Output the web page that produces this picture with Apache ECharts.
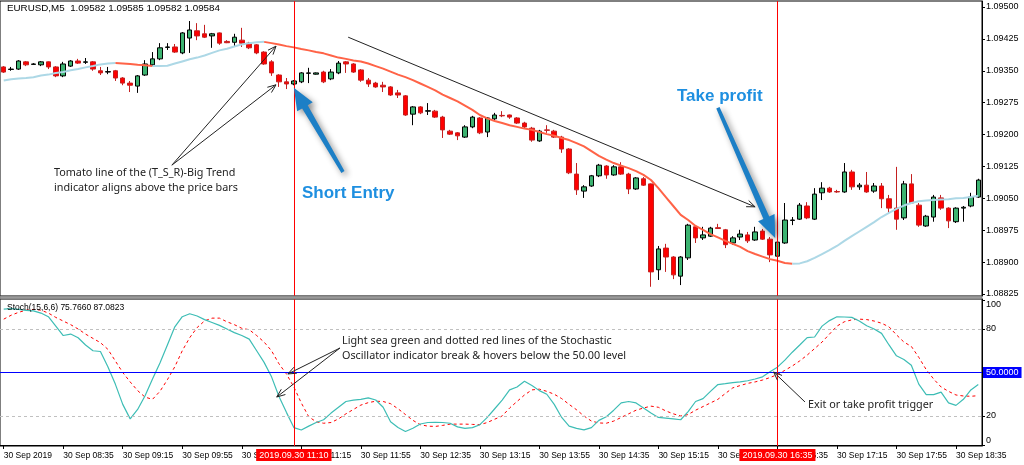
<!DOCTYPE html>
<html>
<head>
<meta charset="utf-8">
<script src="https://cdn.jsdelivr.net/npm/echarts@6.0.0/dist/echarts.min.js"></script>
<style>
  html, body { margin: 0; padding: 0; background: #fff; }
  #main { width: 1024px; height: 465px; }
</style>
</head>
<body>
<div id="main"></div>
<script>
// EURUSD M5, 30 Sep 2019, one bar every 5 minutes from 07:55
const startMinute = 7 * 60 + 55;
const barCount = 132;
const categories = Array.from({length: barCount}, (_, i) => {
  const m = startMinute + i * 5;
  return String(Math.floor(m / 60)).padStart(2, '0') + ':' + String(m % 60).padStart(2, '0');
});

// [open, close, low, high]
const candles = [
  [1.09359,1.09347,1.09345,1.09361],[1.09353,1.09354,1.09350,1.09359],[1.09354,1.09373,1.09352,1.09375],[1.09371,1.09364,1.09361,1.09373],
  [1.09365,1.09366,1.09364,1.09368],[1.09364,1.09371,1.09361,1.09373],[1.09371,1.09359,1.09354,1.09372],[1.09359,1.09338,1.09335,1.09361],
  [1.09338,1.09366,1.09335,1.09371],[1.09361,1.09373,1.09359,1.09375],[1.09373,1.09368,1.09366,1.09378],[1.09370,1.09371,1.09366,1.09380],
  [1.09371,1.09354,1.09350,1.09373],[1.09350,1.09345,1.09340,1.09359],[1.09347,1.09348,1.09342,1.09359],[1.09350,1.09333,1.09326,1.09352],
  [1.09333,1.09321,1.09316,1.09335],[1.09321,1.09316,1.09300,1.09326],[1.09314,1.09338,1.09298,1.09340],[1.09340,1.09366,1.09338,1.09375],
  [1.09364,1.09378,1.09361,1.09394],[1.09378,1.09404,1.09375,1.09415],[1.09405,1.09406,1.09399,1.09415],[1.09406,1.09394,1.09392,1.09413],
  [1.09392,1.09439,1.09389,1.09441],[1.09427,1.09446,1.09392,1.09467],[1.09444,1.09432,1.09422,1.09462],[1.09437,1.09429,1.09427,1.09458],
  [1.09432,1.09437,1.09404,1.09439],[1.09439,1.09415,1.09411,1.09440],[1.09419,1.09416,1.09415,1.09422],[1.09417,1.09429,1.09406,1.09437],
  [1.09422,1.09415,1.09406,1.09451],[1.09415,1.09404,1.09401,1.09418],[1.09411,1.09392,1.09389,1.09413],[1.09394,1.09366,1.09364,1.09396],
  [1.09371,1.09345,1.09338,1.09375],[1.09340,1.09324,1.09312,1.09342],[1.09324,1.09319,1.09307,1.09333],[1.09319,1.09326,1.09316,1.09328],
  [1.09324,1.09345,1.09321,1.09347],[1.09344,1.09345,1.09321,1.09357],[1.09342,1.09345,1.09341,1.09346],[1.09347,1.09324,1.09321,1.09350],
  [1.09331,1.09347,1.09328,1.09354],[1.09345,1.09368,1.09342,1.09373],[1.09371,1.09366,1.09345,1.09373],[1.09366,1.09347,1.09345,1.09368],
  [1.09352,1.09328,1.09324,1.09354],[1.09328,1.09319,1.09312,1.09333],[1.09321,1.09312,1.09310,1.09324],[1.09316,1.09312,1.09300,1.09324],
  [1.09312,1.09293,1.09291,1.09314],[1.09298,1.09293,1.09286,1.09305],[1.09291,1.09246,1.09244,1.09293],[1.09248,1.09265,1.09222,1.09267],
  [1.09265,1.09251,1.09248,1.09267],[1.09255,1.09256,1.09246,1.09274],[1.09255,1.09241,1.09239,1.09258],[1.09241,1.09211,1.09192,1.09244],
  [1.09208,1.09201,1.09199,1.09211],[1.09204,1.09197,1.09187,1.09206],[1.09194,1.09218,1.09192,1.09222],[1.09218,1.09241,1.09215,1.09244],
  [1.09239,1.09204,1.09201,1.09241],[1.09206,1.09239,1.09194,1.09241],[1.09237,1.09246,1.09234,1.09251],[1.09245,1.09244,1.09241,1.09255],
  [1.09246,1.09241,1.09237,1.09247],[1.09239,1.09227,1.09225,1.09241],[1.09227,1.09218,1.09215,1.09230],[1.09215,1.09187,1.09183,1.09218],
  [1.09185,1.09208,1.09183,1.09211],[1.09211,1.09210,1.09204,1.09222],[1.09208,1.09194,1.09192,1.09211],[1.09194,1.09166,1.09157,1.09197],
  [1.09166,1.09110,1.09107,1.09168],[1.09107,1.09070,1.09058,1.09133],[1.09067,1.09077,1.09051,1.09081],[1.09079,1.09103,1.09077,1.09105],
  [1.09103,1.09128,1.09100,1.09131],[1.09126,1.09105,1.09096,1.09128],[1.09105,1.09124,1.09103,1.09128],[1.09124,1.09107,1.09105,1.09135],
  [1.09107,1.09072,1.09060,1.09110],[1.09072,1.09098,1.09070,1.09100],[1.09096,1.09081,1.09079,1.09100],[1.09084,1.08877,1.08842,1.09085],
  [1.08882,1.08931,1.08858,1.08938],[1.08933,1.08912,1.08877,1.08943],[1.08912,1.08870,1.08860,1.08914],[1.08867,1.08912,1.08846,1.08914],
  [1.08910,1.08987,1.08905,1.08990],[1.08983,1.08957,1.08945,1.08987],[1.08957,1.08964,1.08952,1.08983],[1.08961,1.08980,1.08959,1.08983],
  [1.08981,1.08979,1.08978,1.08990],[1.08976,1.08941,1.08933,1.08978],[1.08945,1.08957,1.08941,1.08961],[1.08959,1.08966,1.08952,1.08976],
  [1.08964,1.08950,1.08945,1.08971],[1.08952,1.08971,1.08950,1.08983],[1.08973,1.08954,1.08952,1.08978],[1.08954,1.08917,1.08900,1.08959],
  [1.08914,1.08947,1.08912,1.08952],[1.08945,1.08999,1.08943,1.09039],[1.08998,1.08999,1.08987,1.09006],[1.09001,1.09034,1.08999,1.09039],
  [1.09032,1.09004,1.09001,1.09041],[1.09001,1.09060,1.08999,1.09074],[1.09063,1.09074,1.09046,1.09088],[1.09074,1.09065,1.09063,1.09077],
  [1.09066,1.09065,1.09063,1.09070],[1.09065,1.09112,1.09063,1.09133],[1.09112,1.09077,1.09070,1.09117],[1.09077,1.09081,1.09070,1.09086],
  [1.09081,1.09065,1.09063,1.09112],[1.09067,1.09079,1.09063,1.09086],[1.09079,1.09049,1.09027,1.09086],[1.09049,1.09027,1.09015,1.09058],
  [1.09027,1.09001,1.08976,1.09124],[1.09004,1.09084,1.08999,1.09091],[1.09084,1.09039,1.09037,1.09107],[1.09034,1.08987,1.08983,1.09039],
  [1.08985,1.09008,1.08983,1.09011],[1.09006,1.09053,1.08995,1.09058],[1.09051,1.09027,1.09023,1.09058],[1.09027,1.08997,1.08980,1.09029],
  [1.08995,1.09027,1.08992,1.09029],[1.09027,1.09029,1.08995,1.09032],[1.09032,1.09053,1.09029,1.09063],[1.09053,1.09093,1.09051,1.09096]
];

// (T_S_R)-Big Trend line
const trendLine = [
  1.09327,1.09330,1.09332,1.09333,1.09335,1.09339,1.09341,1.09345,1.09347,1.09351,
  1.09354,1.09358,1.09361,1.09365,1.09367,1.09368,1.09367,1.09366,1.09364,1.09363,
  1.09361,1.09361,1.09362,1.09367,1.09372,1.09377,1.09381,1.09386,1.09392,1.09398,
  1.09402,1.09407,1.09412,1.09415,1.09417,1.09418,1.09415,1.09412,1.09408,1.09405,
  1.09401,1.09398,1.09394,1.09391,1.09386,1.09381,1.09378,1.09374,1.09372,1.09367,
  1.09361,1.09355,1.09348,1.09341,1.09335,1.09328,1.09320,1.09312,1.09304,1.09294,
  1.09286,1.09278,1.09268,1.09258,1.09246,1.09238,1.09232,1.09227,1.09222,1.09218,
  1.09214,1.09211,1.09206,1.09201,1.09197,1.09192,1.09187,1.09180,1.09172,1.09161,
  1.09150,1.09141,1.09133,1.09127,1.09121,1.09114,1.09105,1.09093,1.09074,1.09053,
  1.09032,1.09011,1.08999,1.08985,1.08976,1.08966,1.08958,1.08950,1.08943,1.08936,
  1.08926,1.08919,1.08913,1.08907,1.08903,1.08898,1.08896,1.08897,1.08902,1.08910,
  1.08919,1.08928,1.08938,1.08950,1.08961,1.08972,1.08983,1.08994,1.09006,1.09016,
  1.09025,1.09033,1.09039,1.09043,1.09045,1.09046,1.09047,1.09048,1.09050,1.09051,1.09053,1.09056
];

// Stoch(15,6,6)
const stochMain = [
  93.7,94,93.5,92.8,92.5,91,88.5,82,75.5,76.5,
  74,69,65,64.5,54,42,28,18,24.5,34,
  45.5,56.5,69,81.5,88.5,90.5,89,86.5,84.5,82.5,
  80,77.5,75.5,73,65,57,47,33.5,22.5,12,
  10.3,13,15.5,17.4,22,26,30,31,31.5,32.5,
  31,26,16,12,9.3,11.5,14.5,15.5,15.7,15.5,
  15,12.5,11.5,12,14,19,25,31,38,40,
  44,41,37.5,35,28,19,13,11.5,10.4,12,
  17,19.5,24,29,30,29,25.5,22,19,18.5,
  18,17.4,23,30,32,37,41.7,42.3,43,43.5,
  44.3,45.5,47,50.5,53.7,58.5,64,69,74.1,74.5,
  82,85.8,88.4,88.3,88,85.5,82.2,80,77,69,
  61.5,59,55,42,34.7,34.7,36.5,29,27.3,31.5,38,41.7
];
const stochSignal = [
  86.8,89.5,91.5,93,93.5,93,91,88,85.5,83,
  80,76.5,73.5,70.6,66,58,50,43.5,37.5,33,
  31.5,37,45,54,65,74,81,85.6,87.5,87.5,
  85,83,80.5,79.5,75.5,71,65,56,49,40,
  29,19.5,16,15,15.5,18,21.5,24.5,27.5,29.2,
  30.2,30,28.5,25,21,17,14,13,12.8,13.5,
  14.4,14.4,14.4,14.2,14,15.5,17.8,20,25.5,30,
  34.5,38,38.5,37,35,32,28,24.3,20,16.5,
  15.2,15,16.5,19,21.5,24,25.5,26.8,26,23.5,
  21.5,20,21,24,26.5,29,31.5,35.5,39.4,41,
  42.5,43.5,44.8,46.5,48.6,51.5,54.5,58,62,66.5,
  71,76.5,82,85,86.3,86.8,86.5,85.5,84,81.5,
  76,71,68,60.5,52,45.5,40,37,34.5,33.8,33.6,34
];

const priceTicks = [1.08825,1.08900,1.08975,1.09050,1.09125,1.09200,1.09275,1.09350,1.09425,1.09500];
const stochLabels = [0, 20, 80, 100];
const stochTicks = [0, 20, 50, 80, 100];
const dashedLevels = [20, 80];
const midLevel = 50;
const signalTimes = ['11:10', '16:35'];

const FONT = 'Liberation Sans';
const NOTE_FONT = 'Noto Sans';
const SIGNAL_RED = '#ff0000';

// split the trend line into falling (tomato) and rising (light blue) pieces
const falling = i => i > 0 && trendLine[i] < trendLine[i - 1];
const tomatoPart = trendLine.map((v, i) => (falling(i) || (i + 1 < barCount && falling(i + 1))) ? v : null);
const bluePart = trendLine.map((v, i) => (i === 0 || !falling(i) || (i + 1 < barCount && !falling(i + 1))) ? v : null);

const chart = echarts.init(document.getElementById('main'), null, {renderer: 'canvas'});

const redLabel = t => ({
  show: true, position: 'start', distance: 3,
  formatter: '2019.09.30 ' + t,
  backgroundColor: SIGNAL_RED, color: '#fff', padding: [2, 3, 1, 3],
  fontSize: 9, fontFamily: FONT
});
const redLine = {color: SIGNAL_RED, width: 1, type: 'solid', opacity: 1};

chart.setOption({
  animation: false,
  backgroundColor: '#ffffff',
  grid: [
    {left: 0, right: 42, top: 1, height: 295, show: true, borderColor: '#000', borderWidth: 1, outerBoundsMode: 'none'},
    {left: 0, right: 42, top: 299, height: 147, show: true, borderColor: '#000', borderWidth: 1, outerBoundsMode: 'none'}
  ],
  xAxis: [
    {type: 'category', gridIndex: 0, data: categories, boundaryGap: true,
      axisLine: {show: false}, axisTick: {show: false}, axisLabel: {show: false}, splitLine: {show: false}},
    {type: 'category', gridIndex: 1, data: categories, boundaryGap: true,
      axisLine: {show: true, lineStyle: {color: '#000'}},
      axisTick: {show: true, interval: 7, alignWithLabel: true, length: 4, lineStyle: {color: '#000'}},
      axisLabel: {interval: 7, align: 'left', margin: 5, fontSize: 8.5, fontFamily: FONT, color: '#000',
        formatter: (v, i) => i === 0 ? '30 Sep 2019' : '30 Sep ' + v},
      splitLine: {show: false}}
  ],
  yAxis: [
    {type: 'value', gridIndex: 0, position: 'right', min: 1.088203, max: 1.095141,
      splitLine: {show: false},
      axisLine: {show: true, lineStyle: {color: '#000'}},
      axisTick: {show: true, customValues: priceTicks, length: 3, lineStyle: {color: '#000'}},
      axisLabel: {customValues: priceTicks, formatter: v => v.toFixed(5), fontSize: 9, fontFamily: FONT, color: '#000', margin: 4}},
    {type: 'value', gridIndex: 1, position: 'right', min: -0.7, max: 100.7,
      splitLine: {show: false},
      axisLine: {show: true, lineStyle: {color: '#000'}},
      axisTick: {show: true, customValues: stochTicks, length: 3, lineStyle: {color: '#000'}},
      axisLabel: {customValues: stochLabels, formatter: v => String(v), fontSize: 9, fontFamily: FONT, color: '#000', margin: 4,
        verticalAlignMinLabel: 'bottom', verticalAlignMaxLabel: 'top'}}
  ],
  series: [
    {
      type: 'candlestick', xAxisIndex: 0, yAxisIndex: 0, data: candles, barWidth: 5,
      itemStyle: {color: '#3cb371', color0: '#ff0000', borderColor: '#000', borderColor0: '#c42020', borderWidth: 1},
      z: 2
    },
    {type: 'line', xAxisIndex: 0, yAxisIndex: 0, data: tomatoPart, showSymbol: false, symbol: 'none',
      lineStyle: {color: '#ff6347', width: 2}, z: 4},
    {type: 'line', xAxisIndex: 0, yAxisIndex: 0, data: bluePart, showSymbol: false, symbol: 'none',
      lineStyle: {color: '#add8e6', width: 2}, z: 4,
      markLine: {
        silent: true, symbol: ['none', 'none'], label: {show: false}, z: 10,
        lineStyle: redLine,
        data: signalTimes.map(t => ({xAxis: t, lineStyle: redLine}))
      }},
    {
      type: 'line', xAxisIndex: 1, yAxisIndex: 1, data: stochMain, showSymbol: false, symbol: 'none',
      lineStyle: {color: '#3dbdb5', width: 1.2}, z: 4,
      markLine: {
        silent: true, symbol: ['none', 'none'],
        data: [
          ...dashedLevels.map(v => ({yAxis: v, lineStyle: {color: '#c0c0c0', type: [3, 3], width: 1}, label: {show: false}})),
          {yAxis: midLevel, lineStyle: {color: '#0000ff', type: 'solid', width: 1},
            label: {show: true, position: 'end', distance: 1, formatter: midLevel.toFixed(4),
              backgroundColor: '#0000ff', color: '#fff', padding: [1, 3, 1, 3], fontSize: 9, fontFamily: FONT}},
          ...signalTimes.map(t => ({xAxis: t, lineStyle: redLine, label: redLabel(t)}))
        ]
      }
    },
    {type: 'line', xAxisIndex: 1, yAxisIndex: 1, data: stochSignal, showSymbol: false, symbol: 'none',
      lineStyle: {color: '#ff0000', width: 1, type: [3, 3]}, z: 3}
  ]
});

// annotations, anchored to (bar, value) inside each panel
function at(g, bar, v) {
  const b = Math.floor(bar), f = bar - b;
  const a = chart.convertToPixel({gridIndex: g}, [b, v]);
  const c = chart.convertToPixel({gridIndex: g}, [b + 1, v]);
  return [a[0] + f * (c[0] - a[0]), a[1]];
}

function thinArrow(p0, p1) {
  const ang = Math.atan2(p1[1] - p0[1], p1[0] - p0[0]);
  const L = 9, w = 0.38;
  const h1 = [p1[0] - L * Math.cos(ang - w), p1[1] - L * Math.sin(ang - w)];
  const h2 = [p1[0] - L * Math.cos(ang + w), p1[1] - L * Math.sin(ang + w)];
  return [
    {type: 'line', shape: {x1: p0[0], y1: p0[1], x2: p1[0], y2: p1[1]}, style: {stroke: '#222', lineWidth: 1}, z: 50},
    {type: 'polyline', shape: {points: [h1, p1, h2]}, style: {stroke: '#222', lineWidth: 1, fill: null}, z: 50}
  ];
}

function fatArrow(p0, p1) {
  const dx = p1[0] - p0[0], dy = p1[1] - p0[1], len = Math.hypot(dx, dy);
  const ux = dx / len, uy = dy / len, nx = -uy, ny = ux;
  const hl = 22, hw = 9, tw = 1.8, sw = 3.2;
  const bx = p1[0] - ux * hl, by = p1[1] - uy * hl;
  const pts = [
    [p0[0] + nx * tw, p0[1] + ny * tw],
    [bx + nx * sw, by + ny * sw],
    [bx + nx * hw, by + ny * hw],
    p1,
    [bx - nx * hw, by - ny * hw],
    [bx - nx * sw, by - ny * sw],
    [p0[0] - nx * tw, p0[1] - ny * tw]
  ];
  return {type: 'polygon', shape: {points: pts}, z: 60,
    style: {fill: '#1c7fc6', shadowColor: 'rgba(0,0,0,0.45)', shadowBlur: 6, shadowOffsetX: 3, shadowOffsetY: 3}};
}

function note(x, y, text, opts) {
  return {type: 'text', x: x, y: y, z: 70,
    style: Object.assign({text: text, fill: '#222', font: '10.8px ' + NOTE_FONT, align: 'left', verticalAlign: 'middle'}, opts || {})};
}

const tomatoTail = at(0, 22.6, 1.09128);
const exitTail = at(1, 107.7, 29.7);
const stochTail = at(1, 45.2, 66.9);

const graphics = [
  {type: 'rect', shape: {x: 0, y: 296, width: 982, height: 3}, style: {fill: '#9a9a9a', stroke: '#6d6d6d', lineWidth: 0.6}, z: 40},
  note(7, 8, 'EURUSD,M5  1.09582 1.09585 1.09582 1.09584', {font: '9.8px ' + FONT, fill: '#000'}),
  note(7, 308, 'Stoch(15,6,6) 75.7660 87.0823', {font: '8.5px ' + FONT, fill: '#000'}),
  ...thinArrow(at(0, 46.3, 1.09429), at(0, 101.0, 1.09030)),
  ...thinArrow(tomatoTail, at(0, 36.6, 1.09408)),
  ...thinArrow(tomatoTail, at(0, 36.6, 1.09317)),
  note(54, 173, 'Tomato line of the (T_S_R)-Big Trend'),
  note(54, 188, 'indicator aligns above the price bars'),
  fatArrow(at(0, 45.6, 1.09112), at(0, 39.0, 1.09310)),
  fatArrow(at(0, 96.0, 1.09263), at(0, 103.7, 1.08957)),
  note(302, 193, 'Short Entry', {font: 'bold 17px ' + FONT, fill: '#1e8fe0'}),
  note(677, 96, 'Take profit', {font: 'bold 17px ' + FONT, fill: '#1e8fe0'}),
  ...thinArrow(stochTail, at(1, 38.2, 49.0)),
  ...thinArrow(stochTail, at(1, 36.7, 33.1)),
  note(342, 341, 'Light sea green and dotted red lines of the Stochastic'),
  note(342, 356, 'Oscillator indicator break & hovers below the 50.00 level'),
  ...thinArrow(exitTail, at(1, 103.5, 50.3)),
  note(808, 405, 'Exit or take profit trigger')
];

chart.setOption({graphic: graphics});
</script>
</body>
</html>
